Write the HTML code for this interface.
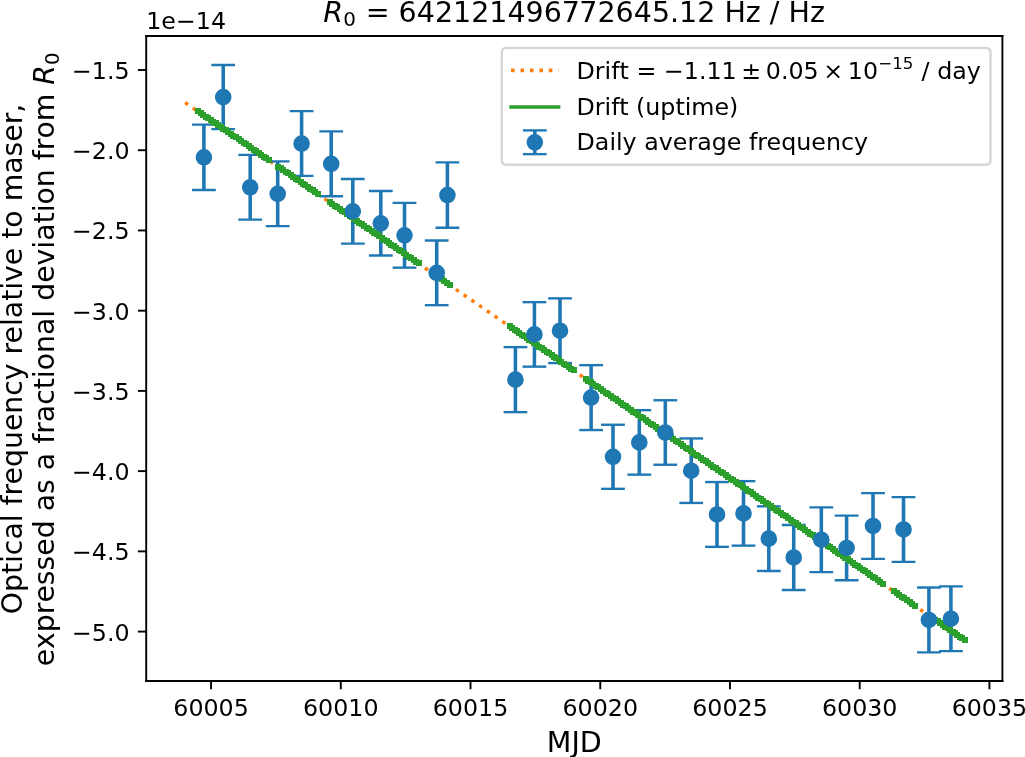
<!DOCTYPE html>
<html><head><meta charset="utf-8"><title>plot</title>
<style>html,body{margin:0;padding:0;background:#fff;}svg{display:block;}</style>
</head><body>
<svg width="1025" height="757" viewBox="0 0 431.578947 318.736842" version="1.1">
<defs>
<style type="text/css">*{stroke-linejoin: round; stroke-linecap: butt}</style>
</defs>
<g id="figure_1">
<g id="patch_1">
<path d="M 0 318.736842
L 431.578947 318.736842
L 431.578947 0
L 0 0
z
" style="fill: #ffffff"/>
</g>
<g id="axes_1">
<g id="patch_2">
<path d="M 61.557895 286.715789
L 422.063158 286.715789
L 422.063158 15.136842
L 61.557895 15.136842
z
" style="fill: #ffffff"/>
</g>
<g id="matplotlib.axis_1">
<g id="xtick_1">
<g id="line2d_1">
<defs>
<path id="m1504cfccaf" d="M 0 0
L 0 3.5
" style="stroke: #000000; stroke-width: 0.8"/>
</defs>
<g>
<use href="#m1504cfccaf" x="88.8689" y="286.715789" style="stroke: #000000; stroke-width: 0.8"/>
</g>
</g>
<g id="text_1">
<text style="font-size: 10px; font-family: 'DejaVu Sans', sans-serif; text-anchor: middle" x="88.8689" y="301.314227" transform="rotate(-0 88.8689 301.314227)">60005</text>
</g>
</g>
<g id="xtick_2">
<g id="line2d_2">
<g>
<use href="#m1504cfccaf" x="143.490909" y="286.715789" style="stroke: #000000; stroke-width: 0.8"/>
</g>
</g>
<g id="text_2">
<text style="font-size: 10px; font-family: 'DejaVu Sans', sans-serif; text-anchor: middle" x="143.490909" y="301.314227" transform="rotate(-0 143.490909 301.314227)">60010</text>
</g>
</g>
<g id="xtick_3">
<g id="line2d_3">
<g>
<use href="#m1504cfccaf" x="198.112919" y="286.715789" style="stroke: #000000; stroke-width: 0.8"/>
</g>
</g>
<g id="text_3">
<text style="font-size: 10px; font-family: 'DejaVu Sans', sans-serif; text-anchor: middle" x="198.112919" y="301.314227" transform="rotate(-0 198.112919 301.314227)">60015</text>
</g>
</g>
<g id="xtick_4">
<g id="line2d_4">
<g>
<use href="#m1504cfccaf" x="252.734928" y="286.715789" style="stroke: #000000; stroke-width: 0.8"/>
</g>
</g>
<g id="text_4">
<text style="font-size: 10px; font-family: 'DejaVu Sans', sans-serif; text-anchor: middle" x="252.734928" y="301.314227" transform="rotate(-0 252.734928 301.314227)">60020</text>
</g>
</g>
<g id="xtick_5">
<g id="line2d_5">
<g>
<use href="#m1504cfccaf" x="307.356938" y="286.715789" style="stroke: #000000; stroke-width: 0.8"/>
</g>
</g>
<g id="text_5">
<text style="font-size: 10px; font-family: 'DejaVu Sans', sans-serif; text-anchor: middle" x="307.356938" y="301.314227" transform="rotate(-0 307.356938 301.314227)">60025</text>
</g>
</g>
<g id="xtick_6">
<g id="line2d_6">
<g>
<use href="#m1504cfccaf" x="361.978947" y="286.715789" style="stroke: #000000; stroke-width: 0.8"/>
</g>
</g>
<g id="text_6">
<text style="font-size: 10px; font-family: 'DejaVu Sans', sans-serif; text-anchor: middle" x="361.978947" y="301.314227" transform="rotate(-0 361.978947 301.314227)">60030</text>
</g>
</g>
<g id="xtick_7">
<g id="line2d_7">
<g>
<use href="#m1504cfccaf" x="416.600957" y="286.715789" style="stroke: #000000; stroke-width: 0.8"/>
</g>
</g>
<g id="text_7">
<text style="font-size: 10px; font-family: 'DejaVu Sans', sans-serif; text-anchor: middle" x="416.600957" y="301.314227" transform="rotate(-0 416.600957 301.314227)">60035</text>
</g>
</g>
<g id="text_8">
<text style="font-size: 12px; font-family: 'DejaVu Sans', sans-serif; text-anchor: middle" x="241.810526" y="316.512039" transform="rotate(-0 241.810526 316.512039)">MJD</text>
</g>
</g>
<g id="matplotlib.axis_2">
<g id="ytick_1">
<g id="line2d_8">
<defs>
<path id="m5d545ce8f8" d="M 0 0
L -3.5 0
" style="stroke: #000000; stroke-width: 0.8"/>
</defs>
<g>
<use href="#m5d545ce8f8" x="61.557895" y="265.934237" style="stroke: #000000; stroke-width: 0.8"/>
</g>
</g>
<g id="text_9">
<text style="font-size: 10px; font-family: 'DejaVu Sans', sans-serif; text-anchor: end" x="54.557895" y="269.733456" transform="rotate(-0 54.557895 269.733456)">−5.0</text>
</g>
</g>
<g id="ytick_2">
<g id="line2d_9">
<g>
<use href="#m5d545ce8f8" x="61.557895" y="232.15408" style="stroke: #000000; stroke-width: 0.8"/>
</g>
</g>
<g id="text_10">
<text style="font-size: 10px; font-family: 'DejaVu Sans', sans-serif; text-anchor: end" x="54.557895" y="235.953299" transform="rotate(-0 54.557895 235.953299)">−4.5</text>
</g>
</g>
<g id="ytick_3">
<g id="line2d_10">
<g>
<use href="#m5d545ce8f8" x="61.557895" y="198.373924" style="stroke: #000000; stroke-width: 0.8"/>
</g>
</g>
<g id="text_11">
<text style="font-size: 10px; font-family: 'DejaVu Sans', sans-serif; text-anchor: end" x="54.557895" y="202.173143" transform="rotate(-0 54.557895 202.173143)">−4.0</text>
</g>
</g>
<g id="ytick_4">
<g id="line2d_11">
<g>
<use href="#m5d545ce8f8" x="61.557895" y="164.593767" style="stroke: #000000; stroke-width: 0.8"/>
</g>
</g>
<g id="text_12">
<text style="font-size: 10px; font-family: 'DejaVu Sans', sans-serif; text-anchor: end" x="54.557895" y="168.392986" transform="rotate(-0 54.557895 168.392986)">−3.5</text>
</g>
</g>
<g id="ytick_5">
<g id="line2d_12">
<g>
<use href="#m5d545ce8f8" x="61.557895" y="130.813611" style="stroke: #000000; stroke-width: 0.8"/>
</g>
</g>
<g id="text_13">
<text style="font-size: 10px; font-family: 'DejaVu Sans', sans-serif; text-anchor: end" x="54.557895" y="134.612829" transform="rotate(-0 54.557895 134.612829)">−3.0</text>
</g>
</g>
<g id="ytick_6">
<g id="line2d_13">
<g>
<use href="#m5d545ce8f8" x="61.557895" y="97.033454" style="stroke: #000000; stroke-width: 0.8"/>
</g>
</g>
<g id="text_14">
<text style="font-size: 10px; font-family: 'DejaVu Sans', sans-serif; text-anchor: end" x="54.557895" y="100.832673" transform="rotate(-0 54.557895 100.832673)">−2.5</text>
</g>
</g>
<g id="ytick_7">
<g id="line2d_14">
<g>
<use href="#m5d545ce8f8" x="61.557895" y="63.253297" style="stroke: #000000; stroke-width: 0.8"/>
</g>
</g>
<g id="text_15">
<text style="font-size: 10px; font-family: 'DejaVu Sans', sans-serif; text-anchor: end" x="54.557895" y="67.052516" transform="rotate(-0 54.557895 67.052516)">−2.0</text>
</g>
</g>
<g id="ytick_8">
<g id="line2d_15">
<g>
<use href="#m5d545ce8f8" x="61.557895" y="29.473141" style="stroke: #000000; stroke-width: 0.8"/>
</g>
</g>
<g id="text_16">
<text style="font-size: 10px; font-family: 'DejaVu Sans', sans-serif; text-anchor: end" x="54.557895" y="33.272359" transform="rotate(-0 54.557895 33.272359)">−1.5</text>
</g>
</g>
<g id="text_17" transform="matrix(1 0 0 0.9935 0 1.1495)">
<text style="font-size: 12px; font-family: 'DejaVu Sans', sans-serif" transform="translate(9.4312 259.204753) rotate(-90)">Optical frequency relative to maser,</text>
<g transform="translate(23.755082 281.246316) rotate(-90)">
<text>
<tspan x="0" y="-0.875" style="font-size: 12px; font-family: 'DejaVu Sans', sans-serif">e</tspan>
<tspan x="7.382812" y="-0.875" style="font-size: 12px; font-family: 'DejaVu Sans', sans-serif">x</tspan>
<tspan x="14.484375" y="-0.875" style="font-size: 12px; font-family: 'DejaVu Sans', sans-serif">p</tspan>
<tspan x="22.101562" y="-0.875" style="font-size: 12px; font-family: 'DejaVu Sans', sans-serif">r</tspan>
<tspan x="27.035156" y="-0.875" style="font-size: 12px; font-family: 'DejaVu Sans', sans-serif">e</tspan>
<tspan x="34.417969" y="-0.875" style="font-size: 12px; font-family: 'DejaVu Sans', sans-serif">s</tspan>
<tspan x="40.669922" y="-0.875" style="font-size: 12px; font-family: 'DejaVu Sans', sans-serif">s</tspan>
<tspan x="46.921875" y="-0.875" style="font-size: 12px; font-family: 'DejaVu Sans', sans-serif">e</tspan>
<tspan x="54.304688" y="-0.875" style="font-size: 12px; font-family: 'DejaVu Sans', sans-serif">d</tspan>
<tspan x="61.921875" y="-0.875" style="font-size: 12px; font-family: 'DejaVu Sans', sans-serif"> </tspan>
<tspan x="65.736328" y="-0.875" style="font-size: 12px; font-family: 'DejaVu Sans', sans-serif">a</tspan>
<tspan x="73.089844" y="-0.875" style="font-size: 12px; font-family: 'DejaVu Sans', sans-serif">s</tspan>
<tspan x="79.341797" y="-0.875" style="font-size: 12px; font-family: 'DejaVu Sans', sans-serif"> </tspan>
<tspan x="83.15625" y="-0.875" style="font-size: 12px; font-family: 'DejaVu Sans', sans-serif">a</tspan>
<tspan x="90.509766" y="-0.875" style="font-size: 12px; font-family: 'DejaVu Sans', sans-serif"> </tspan>
<tspan x="94.324219" y="-0.875" style="font-size: 12px; font-family: 'DejaVu Sans', sans-serif">f</tspan>
<tspan x="98.548828" y="-0.875" style="font-size: 12px; font-family: 'DejaVu Sans', sans-serif">r</tspan>
<tspan x="103.482422" y="-0.875" style="font-size: 12px; font-family: 'DejaVu Sans', sans-serif">a</tspan>
<tspan x="110.835938" y="-0.875" style="font-size: 12px; font-family: 'DejaVu Sans', sans-serif">c</tspan>
<tspan x="117.433594" y="-0.875" style="font-size: 12px; font-family: 'DejaVu Sans', sans-serif">t</tspan>
<tspan x="122.138672" y="-0.875" style="font-size: 12px; font-family: 'DejaVu Sans', sans-serif">i</tspan>
<tspan x="125.472656" y="-0.875" style="font-size: 12px; font-family: 'DejaVu Sans', sans-serif">o</tspan>
<tspan x="132.814453" y="-0.875" style="font-size: 12px; font-family: 'DejaVu Sans', sans-serif">n</tspan>
<tspan x="140.419922" y="-0.875" style="font-size: 12px; font-family: 'DejaVu Sans', sans-serif">a</tspan>
<tspan x="147.773438" y="-0.875" style="font-size: 12px; font-family: 'DejaVu Sans', sans-serif">l</tspan>
<tspan x="151.107422" y="-0.875" style="font-size: 12px; font-family: 'DejaVu Sans', sans-serif"> </tspan>
<tspan x="154.921875" y="-0.875" style="font-size: 12px; font-family: 'DejaVu Sans', sans-serif">d</tspan>
<tspan x="162.539062" y="-0.875" style="font-size: 12px; font-family: 'DejaVu Sans', sans-serif">e</tspan>
<tspan x="169.921875" y="-0.875" style="font-size: 12px; font-family: 'DejaVu Sans', sans-serif">v</tspan>
<tspan x="177.023438" y="-0.875" style="font-size: 12px; font-family: 'DejaVu Sans', sans-serif">i</tspan>
<tspan x="180.357422" y="-0.875" style="font-size: 12px; font-family: 'DejaVu Sans', sans-serif">a</tspan>
<tspan x="187.710938" y="-0.875" style="font-size: 12px; font-family: 'DejaVu Sans', sans-serif">t</tspan>
<tspan x="192.416016" y="-0.875" style="font-size: 12px; font-family: 'DejaVu Sans', sans-serif">i</tspan>
<tspan x="195.75" y="-0.875" style="font-size: 12px; font-family: 'DejaVu Sans', sans-serif">o</tspan>
<tspan x="203.091797" y="-0.875" style="font-size: 12px; font-family: 'DejaVu Sans', sans-serif">n</tspan>
<tspan x="210.697266" y="-0.875" style="font-size: 12px; font-family: 'DejaVu Sans', sans-serif"> </tspan>
<tspan x="214.511719" y="-0.875" style="font-size: 12px; font-family: 'DejaVu Sans', sans-serif">f</tspan>
<tspan x="218.736328" y="-0.875" style="font-size: 12px; font-family: 'DejaVu Sans', sans-serif">r</tspan>
<tspan x="223.669922" y="-0.875" style="font-size: 12px; font-family: 'DejaVu Sans', sans-serif">o</tspan>
<tspan x="231.011719" y="-0.875" style="font-size: 12px; font-family: 'DejaVu Sans', sans-serif">m</tspan>
<tspan x="242.701172" y="-0.875" style="font-size: 12px; font-family: 'DejaVu Sans', sans-serif"> </tspan>
<tspan x="246.515625" y="-0.875" style="font-style: oblique; font-size: 12px; font-family: 'DejaVu Sans', sans-serif">R</tspan>
<tspan x="254.853516" y="1.09375" style="font-size: 8.4px; font-family: 'DejaVu Sans', sans-serif">0</tspan>
</text>
</g>
</g>
<g id="text_18">
<text style="font-size: 10px; font-family: 'DejaVu Sans', sans-serif; text-anchor: start" x="61.557895" y="12.136842" transform="rotate(-0 61.557895 12.136842)">1e−14</text>
</g>
</g>
<g id="line2d_16">
<path d="M 77.944498 43.19464
L 405.676555 269.224424
" clip-path="url(#pc058e3811c)" style="fill: none; stroke-dasharray: 1.4935,2.4644; stroke-dashoffset: 0; stroke: #ff7f0e; stroke-width: 1.5"/>
</g>
<g id="LineCollection_1">
<path d="M 85.85411 79.981275
L 85.85411 52.487267
" clip-path="url(#pc058e3811c)" style="fill: none; stroke: #1f77b4; stroke-width: 1.5"/>
<path d="M 93.980568 54.381954
L 93.980568 27.351092
" clip-path="url(#pc058e3811c)" style="fill: none; stroke: #1f77b4; stroke-width: 1.5"/>
<path d="M 105.349188 92.486206
L 105.349188 65.202719
" clip-path="url(#pc058e3811c)" style="fill: none; stroke: #1f77b4; stroke-width: 1.5"/>
<path d="M 116.928338 95.222976
L 116.928338 67.939489
" clip-path="url(#pc058e3811c)" style="fill: none; stroke: #1f77b4; stroke-width: 1.5"/>
<path d="M 126.991673 74.04459
L 126.991673 46.803207
" clip-path="url(#pc058e3811c)" style="fill: none; stroke: #1f77b4; stroke-width: 1.5"/>
<path d="M 139.455049 82.633836
L 139.455049 55.308245
" clip-path="url(#pc058e3811c)" style="fill: none; stroke: #1f77b4; stroke-width: 1.5"/>
<path d="M 148.549945 102.591201
L 148.549945 75.349818
" clip-path="url(#pc058e3811c)" style="fill: none; stroke: #1f77b4; stroke-width: 1.5"/>
<path d="M 160.339625 107.601595
L 160.339625 80.44442
" clip-path="url(#pc058e3811c)" style="fill: none; stroke: #1f77b4; stroke-width: 1.5"/>
<path d="M 170.318748 112.696196
L 170.318748 85.412709
" clip-path="url(#pc058e3811c)" style="fill: none; stroke: #1f77b4; stroke-width: 1.5"/>
<path d="M 183.87688 128.485251
L 183.87688 101.243869
" clip-path="url(#pc058e3811c)" style="fill: none; stroke: #1f77b4; stroke-width: 1.5"/>
<path d="M 188.382222 95.896642
L 188.382222 68.36053
" clip-path="url(#pc058e3811c)" style="fill: none; stroke: #1f77b4; stroke-width: 1.5"/>
<path d="M 217.014302 173.536688
L 217.014302 146.168993
" clip-path="url(#pc058e3811c)" style="fill: none; stroke: #1f77b4; stroke-width: 1.5"/>
<path d="M 225.014443 154.379301
L 225.014443 127.222127
" clip-path="url(#pc058e3811c)" style="fill: none; stroke: #1f77b4; stroke-width: 1.5"/>
<path d="M 235.793579 152.863552
L 235.793579 125.622169
" clip-path="url(#pc058e3811c)" style="fill: none; stroke: #1f77b4; stroke-width: 1.5"/>
<path d="M 248.888545 181.07333
L 248.888545 153.747739
" clip-path="url(#pc058e3811c)" style="fill: none; stroke: #1f77b4; stroke-width: 1.5"/>
<path d="M 258.109759 205.830568
L 258.109759 178.84181
" clip-path="url(#pc058e3811c)" style="fill: none; stroke: #1f77b4; stroke-width: 1.5"/>
<path d="M 269.183637 199.851779
L 269.183637 172.694605
" clip-path="url(#pc058e3811c)" style="fill: none; stroke: #1f77b4; stroke-width: 1.5"/>
<path d="M 280.131198 195.683469
L 280.131198 168.526294
" clip-path="url(#pc058e3811c)" style="fill: none; stroke: #1f77b4; stroke-width: 1.5"/>
<path d="M 291.036652 211.767253
L 291.036652 184.610078
" clip-path="url(#pc058e3811c)" style="fill: none; stroke: #1f77b4; stroke-width: 1.5"/>
<path d="M 301.9 230.250973
L 301.9 202.967486
" clip-path="url(#pc058e3811c)" style="fill: none; stroke: #1f77b4; stroke-width: 1.5"/>
<path d="M 313.05809 229.745723
L 313.05809 202.588549
" clip-path="url(#pc058e3811c)" style="fill: none; stroke: #1f77b4; stroke-width: 1.5"/>
<path d="M 323.710909 240.398072
L 323.710909 213.198794
" clip-path="url(#pc058e3811c)" style="fill: none; stroke: #1f77b4; stroke-width: 1.5"/>
<path d="M 334.195303 248.39786
L 334.195303 221.030165
" clip-path="url(#pc058e3811c)" style="fill: none; stroke: #1f77b4; stroke-width: 1.5"/>
<path d="M 345.816559 240.903322
L 345.816559 213.619835
" clip-path="url(#pc058e3811c)" style="fill: none; stroke: #1f77b4; stroke-width: 1.5"/>
<path d="M 356.469377 244.313758
L 356.469377 217.114479
" clip-path="url(#pc058e3811c)" style="fill: none; stroke: #1f77b4; stroke-width: 1.5"/>
<path d="M 367.585361 235.303471
L 367.585361 207.615784
" clip-path="url(#pc058e3811c)" style="fill: none; stroke: #1f77b4; stroke-width: 1.5"/>
<path d="M 380.427692 236.566595
L 380.427692 209.325212
" clip-path="url(#pc058e3811c)" style="fill: none; stroke: #1f77b4; stroke-width: 1.5"/>
<path d="M 391.122616 274.670847
L 391.122616 247.387361
" clip-path="url(#pc058e3811c)" style="fill: none; stroke: #1f77b4; stroke-width: 1.5"/>
<path d="M 400.385936 274.165598
L 400.385936 246.882111
" clip-path="url(#pc058e3811c)" style="fill: none; stroke: #1f77b4; stroke-width: 1.5"/>
</g>
<g id="line2d_17">
<defs>
<path id="mc7c5441340" d="M 5 0
L -5 -0
" style="stroke: #1f77b4"/>
</defs>
<g clip-path="url(#pc058e3811c)">
<use href="#mc7c5441340" x="85.85411" y="79.981275" style="fill: #1f77b4; stroke: #1f77b4"/>
<use href="#mc7c5441340" x="93.980568" y="54.381954" style="fill: #1f77b4; stroke: #1f77b4"/>
<use href="#mc7c5441340" x="105.349188" y="92.486206" style="fill: #1f77b4; stroke: #1f77b4"/>
<use href="#mc7c5441340" x="116.928338" y="95.222976" style="fill: #1f77b4; stroke: #1f77b4"/>
<use href="#mc7c5441340" x="126.991673" y="74.04459" style="fill: #1f77b4; stroke: #1f77b4"/>
<use href="#mc7c5441340" x="139.455049" y="82.633836" style="fill: #1f77b4; stroke: #1f77b4"/>
<use href="#mc7c5441340" x="148.549945" y="102.591201" style="fill: #1f77b4; stroke: #1f77b4"/>
<use href="#mc7c5441340" x="160.339625" y="107.601595" style="fill: #1f77b4; stroke: #1f77b4"/>
<use href="#mc7c5441340" x="170.318748" y="112.696196" style="fill: #1f77b4; stroke: #1f77b4"/>
<use href="#mc7c5441340" x="183.87688" y="128.485251" style="fill: #1f77b4; stroke: #1f77b4"/>
<use href="#mc7c5441340" x="188.382222" y="95.896642" style="fill: #1f77b4; stroke: #1f77b4"/>
<use href="#mc7c5441340" x="217.014302" y="173.536688" style="fill: #1f77b4; stroke: #1f77b4"/>
<use href="#mc7c5441340" x="225.014443" y="154.379301" style="fill: #1f77b4; stroke: #1f77b4"/>
<use href="#mc7c5441340" x="235.793579" y="152.863552" style="fill: #1f77b4; stroke: #1f77b4"/>
<use href="#mc7c5441340" x="248.888545" y="181.07333" style="fill: #1f77b4; stroke: #1f77b4"/>
<use href="#mc7c5441340" x="258.109759" y="205.830568" style="fill: #1f77b4; stroke: #1f77b4"/>
<use href="#mc7c5441340" x="269.183637" y="199.851779" style="fill: #1f77b4; stroke: #1f77b4"/>
<use href="#mc7c5441340" x="280.131198" y="195.683469" style="fill: #1f77b4; stroke: #1f77b4"/>
<use href="#mc7c5441340" x="291.036652" y="211.767253" style="fill: #1f77b4; stroke: #1f77b4"/>
<use href="#mc7c5441340" x="301.9" y="230.250973" style="fill: #1f77b4; stroke: #1f77b4"/>
<use href="#mc7c5441340" x="313.05809" y="229.745723" style="fill: #1f77b4; stroke: #1f77b4"/>
<use href="#mc7c5441340" x="323.710909" y="240.398072" style="fill: #1f77b4; stroke: #1f77b4"/>
<use href="#mc7c5441340" x="334.195303" y="248.39786" style="fill: #1f77b4; stroke: #1f77b4"/>
<use href="#mc7c5441340" x="345.816559" y="240.903322" style="fill: #1f77b4; stroke: #1f77b4"/>
<use href="#mc7c5441340" x="356.469377" y="244.313758" style="fill: #1f77b4; stroke: #1f77b4"/>
<use href="#mc7c5441340" x="367.585361" y="235.303471" style="fill: #1f77b4; stroke: #1f77b4"/>
<use href="#mc7c5441340" x="380.427692" y="236.566595" style="fill: #1f77b4; stroke: #1f77b4"/>
<use href="#mc7c5441340" x="391.122616" y="274.670847" style="fill: #1f77b4; stroke: #1f77b4"/>
<use href="#mc7c5441340" x="400.385936" y="274.165598" style="fill: #1f77b4; stroke: #1f77b4"/>
</g>
</g>
<g id="line2d_18">
<g clip-path="url(#pc058e3811c)">
<use href="#mc7c5441340" x="85.85411" y="52.487267" style="fill: #1f77b4; stroke: #1f77b4"/>
<use href="#mc7c5441340" x="93.980568" y="27.351092" style="fill: #1f77b4; stroke: #1f77b4"/>
<use href="#mc7c5441340" x="105.349188" y="65.202719" style="fill: #1f77b4; stroke: #1f77b4"/>
<use href="#mc7c5441340" x="116.928338" y="67.939489" style="fill: #1f77b4; stroke: #1f77b4"/>
<use href="#mc7c5441340" x="126.991673" y="46.803207" style="fill: #1f77b4; stroke: #1f77b4"/>
<use href="#mc7c5441340" x="139.455049" y="55.308245" style="fill: #1f77b4; stroke: #1f77b4"/>
<use href="#mc7c5441340" x="148.549945" y="75.349818" style="fill: #1f77b4; stroke: #1f77b4"/>
<use href="#mc7c5441340" x="160.339625" y="80.44442" style="fill: #1f77b4; stroke: #1f77b4"/>
<use href="#mc7c5441340" x="170.318748" y="85.412709" style="fill: #1f77b4; stroke: #1f77b4"/>
<use href="#mc7c5441340" x="183.87688" y="101.243869" style="fill: #1f77b4; stroke: #1f77b4"/>
<use href="#mc7c5441340" x="188.382222" y="68.36053" style="fill: #1f77b4; stroke: #1f77b4"/>
<use href="#mc7c5441340" x="217.014302" y="146.168993" style="fill: #1f77b4; stroke: #1f77b4"/>
<use href="#mc7c5441340" x="225.014443" y="127.222127" style="fill: #1f77b4; stroke: #1f77b4"/>
<use href="#mc7c5441340" x="235.793579" y="125.622169" style="fill: #1f77b4; stroke: #1f77b4"/>
<use href="#mc7c5441340" x="248.888545" y="153.747739" style="fill: #1f77b4; stroke: #1f77b4"/>
<use href="#mc7c5441340" x="258.109759" y="178.84181" style="fill: #1f77b4; stroke: #1f77b4"/>
<use href="#mc7c5441340" x="269.183637" y="172.694605" style="fill: #1f77b4; stroke: #1f77b4"/>
<use href="#mc7c5441340" x="280.131198" y="168.526294" style="fill: #1f77b4; stroke: #1f77b4"/>
<use href="#mc7c5441340" x="291.036652" y="184.610078" style="fill: #1f77b4; stroke: #1f77b4"/>
<use href="#mc7c5441340" x="301.9" y="202.967486" style="fill: #1f77b4; stroke: #1f77b4"/>
<use href="#mc7c5441340" x="313.05809" y="202.588549" style="fill: #1f77b4; stroke: #1f77b4"/>
<use href="#mc7c5441340" x="323.710909" y="213.198794" style="fill: #1f77b4; stroke: #1f77b4"/>
<use href="#mc7c5441340" x="334.195303" y="221.030165" style="fill: #1f77b4; stroke: #1f77b4"/>
<use href="#mc7c5441340" x="345.816559" y="213.619835" style="fill: #1f77b4; stroke: #1f77b4"/>
<use href="#mc7c5441340" x="356.469377" y="217.114479" style="fill: #1f77b4; stroke: #1f77b4"/>
<use href="#mc7c5441340" x="367.585361" y="207.615784" style="fill: #1f77b4; stroke: #1f77b4"/>
<use href="#mc7c5441340" x="380.427692" y="209.325212" style="fill: #1f77b4; stroke: #1f77b4"/>
<use href="#mc7c5441340" x="391.122616" y="247.387361" style="fill: #1f77b4; stroke: #1f77b4"/>
<use href="#mc7c5441340" x="400.385936" y="246.882111" style="fill: #1f77b4; stroke: #1f77b4"/>
</g>
</g>
<g id="line2d_19"/>
<g id="green_uptime" transform="scale(0.421053)"><path d="M195 108h6v6h-6zM198 110h6v6h-6zM200 112h6v6h-6zM203 114h6v6h-6zM205 115h6v6h-6zM208 117h6v6h-6zM210 119h6v6h-6zM213 120h6v6h-6zM215 122h6v6h-6zM218 124h6v6h-6zM220 126h6v6h-6zM223 127h6v6h-6zM225 129h6v6h-6zM228 131h6v6h-6zM230 133h6v6h-6zM233 134h6v6h-6zM236 136h6v6h-6zM238 138h6v6h-6zM241 140h6v6h-6zM243 141h6v6h-6zM246 143h6v6h-6zM248 145h6v6h-6zM251 147h6v6h-6zM253 148h6v6h-6zM256 150h6v6h-6zM258 152h6v6h-6zM261 154h6v6h-6zM263 155h6v6h-6zM266 157h6v6h-6zM275 164h6v6h-6zM278 165h6v6h-6zM280 167h6v6h-6zM283 169h6v6h-6zM285 170h6v6h-6zM288 172h6v6h-6zM290 174h6v6h-6zM293 176h6v6h-6zM295 177h6v6h-6zM298 179h6v6h-6zM300 181h6v6h-6zM302 182h6v6h-6zM305 184h6v6h-6zM307 186h6v6h-6zM310 187h6v6h-6zM312 189h6v6h-6zM315 191h6v6h-6zM327 199h6v6h-6zM329 201h6v6h-6zM332 203h6v6h-6zM334 204h6v6h-6zM337 206h6v6h-6zM339 208h6v6h-6zM342 209h6v6h-6zM344 211h6v6h-6zM347 213h6v6h-6zM349 214h6v6h-6zM351 216h6v6h-6zM354 218h6v6h-6zM356 220h6v6h-6zM359 221h6v6h-6zM361 223h6v6h-6zM364 225h6v6h-6zM366 226h6v6h-6zM369 228h6v6h-6zM371 230h6v6h-6zM374 231h6v6h-6zM376 233h6v6h-6zM379 235h6v6h-6zM381 237h6v6h-6zM384 238h6v6h-6zM386 240h6v6h-6zM388 242h6v6h-6zM391 243h6v6h-6zM393 245h6v6h-6zM396 247h6v6h-6zM398 248h6v6h-6zM401 250h6v6h-6zM403 252h6v6h-6zM406 254h6v6h-6zM408 255h6v6h-6zM411 257h6v6h-6zM413 259h6v6h-6zM416 260h6v6h-6zM436 274h6v6h-6zM439 276h6v6h-6zM441 278h6v6h-6zM444 280h6v6h-6zM447 282h6v6h-6zM507 323h6v6h-6zM509 325h6v6h-6zM512 327h6v6h-6zM514 328h6v6h-6zM516 330h6v6h-6zM519 332h6v6h-6zM521 333h6v6h-6zM524 335h6v6h-6zM526 337h6v6h-6zM529 338h6v6h-6zM531 340h6v6h-6zM534 342h6v6h-6zM536 344h6v6h-6zM539 345h6v6h-6zM541 347h6v6h-6zM544 349h6v6h-6zM546 350h6v6h-6zM549 352h6v6h-6zM551 354h6v6h-6zM553 355h6v6h-6zM556 357h6v6h-6zM558 359h6v6h-6zM561 361h6v6h-6zM563 362h6v6h-6zM566 364h6v6h-6zM568 366h6v6h-6zM571 367h6v6h-6zM583 376h6v6h-6zM585 378h6v6h-6zM588 379h6v6h-6zM590 381h6v6h-6zM593 383h6v6h-6zM595 384h6v6h-6zM598 386h6v6h-6zM600 388h6v6h-6zM603 390h6v6h-6zM605 391h6v6h-6zM608 393h6v6h-6zM610 395h6v6h-6zM613 396h6v6h-6zM615 398h6v6h-6zM618 400h6v6h-6zM620 402h6v6h-6zM623 403h6v6h-6zM625 405h6v6h-6zM628 407h6v6h-6zM630 409h6v6h-6zM633 410h6v6h-6zM635 412h6v6h-6zM638 414h6v6h-6zM640 415h6v6h-6zM643 417h6v6h-6zM645 419h6v6h-6zM648 421h6v6h-6zM650 422h6v6h-6zM653 424h6v6h-6zM655 426h6v6h-6zM658 427h6v6h-6zM660 429h6v6h-6zM663 431h6v6h-6zM665 433h6v6h-6zM668 434h6v6h-6zM670 436h6v6h-6zM673 438h6v6h-6zM675 439h6v6h-6zM678 441h6v6h-6zM680 443h6v6h-6zM683 445h6v6h-6zM685 446h6v6h-6zM688 448h6v6h-6zM690 450h6v6h-6zM693 452h6v6h-6zM695 453h6v6h-6zM698 455h6v6h-6zM700 457h6v6h-6zM703 458h6v6h-6zM705 460h6v6h-6zM708 462h6v6h-6zM710 464h6v6h-6zM713 465h6v6h-6zM715 467h6v6h-6zM718 469h6v6h-6zM720 470h6v6h-6zM723 472h6v6h-6zM725 474h6v6h-6zM728 476h6v6h-6zM730 477h6v6h-6zM733 479h6v6h-6zM735 481h6v6h-6zM738 482h6v6h-6zM740 484h6v6h-6zM743 486h6v6h-6zM745 488h6v6h-6zM748 489h6v6h-6zM750 491h6v6h-6zM753 493h6v6h-6zM755 495h6v6h-6zM758 496h6v6h-6zM760 498h6v6h-6zM763 500h6v6h-6zM765 501h6v6h-6zM768 503h6v6h-6zM770 505h6v6h-6zM773 507h6v6h-6zM775 508h6v6h-6zM778 510h6v6h-6zM780 512h6v6h-6zM783 513h6v6h-6zM785 515h6v6h-6zM788 517h6v6h-6zM790 519h6v6h-6zM793 520h6v6h-6zM795 522h6v6h-6zM797 524h6v6h-6zM800 525h6v6h-6zM802 527h6v6h-6zM805 529h6v6h-6zM807 531h6v6h-6zM810 532h6v6h-6zM812 534h6v6h-6zM815 536h6v6h-6zM817 538h6v6h-6zM820 539h6v6h-6zM822 541h6v6h-6zM825 543h6v6h-6zM827 544h6v6h-6zM830 546h6v6h-6zM832 548h6v6h-6zM835 550h6v6h-6zM837 551h6v6h-6zM840 553h6v6h-6zM842 555h6v6h-6zM845 556h6v6h-6zM847 558h6v6h-6zM850 560h6v6h-6zM852 562h6v6h-6zM855 563h6v6h-6zM857 565h6v6h-6zM860 567h6v6h-6zM862 568h6v6h-6zM865 570h6v6h-6zM867 572h6v6h-6zM870 574h6v6h-6zM872 575h6v6h-6zM875 577h6v6h-6zM877 579h6v6h-6zM880 581h6v6h-6zM891 588h6v6h-6zM894 590h6v6h-6zM896 592h6v6h-6zM899 594h6v6h-6zM901 595h6v6h-6zM904 597h6v6h-6zM907 599h6v6h-6zM909 601h6v6h-6zM912 603h6v6h-6zM925 612h6v6h-6zM927 613h6v6h-6zM930 615h6v6h-6zM932 617h6v6h-6zM935 618h6v6h-6zM937 620h6v6h-6zM940 622h6v6h-6zM942 624h6v6h-6zM945 625h6v6h-6zM947 627h6v6h-6zM950 629h6v6h-6zM952 630h6v6h-6zM954 632h6v6h-6zM957 634h6v6h-6zM959 635h6v6h-6zM962 637h6v6h-6z" style="fill: #2ca02c" shape-rendering="crispEdges"/></g>
<g id="line2d_20">
<defs>
<path id="mf14c53ed57" d="M 0 3
C 0.795609 3 1.55874 2.683901 2.12132 2.12132
C 2.683901 1.55874 3 0.795609 3 0
C 3 -0.795609 2.683901 -1.55874 2.12132 -2.12132
C 1.55874 -2.683901 0.795609 -3 0 -3
C -0.795609 -3 -1.55874 -2.683901 -2.12132 -2.12132
C -2.683901 -1.55874 -3 -0.795609 -3 0
C -3 0.795609 -2.683901 1.55874 -2.12132 2.12132
C -1.55874 2.683901 -0.795609 3 0 3
z
" style="stroke: #1f77b4"/>
</defs>
<g clip-path="url(#pc058e3811c)">
<use href="#mf14c53ed57" x="85.85411" y="66.234271" style="fill: #1f77b4; stroke: #1f77b4"/>
<use href="#mf14c53ed57" x="93.980568" y="40.866523" style="fill: #1f77b4; stroke: #1f77b4"/>
<use href="#mf14c53ed57" x="105.349188" y="78.844463" style="fill: #1f77b4; stroke: #1f77b4"/>
<use href="#mf14c53ed57" x="116.928338" y="81.581232" style="fill: #1f77b4; stroke: #1f77b4"/>
<use href="#mf14c53ed57" x="126.991673" y="60.423899" style="fill: #1f77b4; stroke: #1f77b4"/>
<use href="#mf14c53ed57" x="139.455049" y="68.97104" style="fill: #1f77b4; stroke: #1f77b4"/>
<use href="#mf14c53ed57" x="148.549945" y="88.97051" style="fill: #1f77b4; stroke: #1f77b4"/>
<use href="#mf14c53ed57" x="160.339625" y="94.023007" style="fill: #1f77b4; stroke: #1f77b4"/>
<use href="#mf14c53ed57" x="170.318748" y="99.054453" style="fill: #1f77b4; stroke: #1f77b4"/>
<use href="#mf14c53ed57" x="183.87688" y="114.86456" style="fill: #1f77b4; stroke: #1f77b4"/>
<use href="#mf14c53ed57" x="188.382222" y="82.128586" style="fill: #1f77b4; stroke: #1f77b4"/>
<use href="#mf14c53ed57" x="217.014302" y="159.85284" style="fill: #1f77b4; stroke: #1f77b4"/>
<use href="#mf14c53ed57" x="225.014443" y="140.800714" style="fill: #1f77b4; stroke: #1f77b4"/>
<use href="#mf14c53ed57" x="235.793579" y="139.242861" style="fill: #1f77b4; stroke: #1f77b4"/>
<use href="#mf14c53ed57" x="248.888545" y="167.410535" style="fill: #1f77b4; stroke: #1f77b4"/>
<use href="#mf14c53ed57" x="258.109759" y="192.336189" style="fill: #1f77b4; stroke: #1f77b4"/>
<use href="#mf14c53ed57" x="269.183637" y="186.273192" style="fill: #1f77b4; stroke: #1f77b4"/>
<use href="#mf14c53ed57" x="280.131198" y="182.104882" style="fill: #1f77b4; stroke: #1f77b4"/>
<use href="#mf14c53ed57" x="291.036652" y="198.188666" style="fill: #1f77b4; stroke: #1f77b4"/>
<use href="#mf14c53ed57" x="301.9" y="216.60923" style="fill: #1f77b4; stroke: #1f77b4"/>
<use href="#mf14c53ed57" x="313.05809" y="216.167136" style="fill: #1f77b4; stroke: #1f77b4"/>
<use href="#mf14c53ed57" x="323.710909" y="226.798433" style="fill: #1f77b4; stroke: #1f77b4"/>
<use href="#mf14c53ed57" x="334.195303" y="234.714013" style="fill: #1f77b4; stroke: #1f77b4"/>
<use href="#mf14c53ed57" x="345.816559" y="227.261579" style="fill: #1f77b4; stroke: #1f77b4"/>
<use href="#mf14c53ed57" x="356.469377" y="230.714119" style="fill: #1f77b4; stroke: #1f77b4"/>
<use href="#mf14c53ed57" x="367.585361" y="221.459627" style="fill: #1f77b4; stroke: #1f77b4"/>
<use href="#mf14c53ed57" x="380.427692" y="222.945904" style="fill: #1f77b4; stroke: #1f77b4"/>
<use href="#mf14c53ed57" x="391.122616" y="261.029104" style="fill: #1f77b4; stroke: #1f77b4"/>
<use href="#mf14c53ed57" x="400.385936" y="260.523854" style="fill: #1f77b4; stroke: #1f77b4"/>
</g>
</g>
<g id="patch_11">
<path d="M 61.557895 286.715789
L 61.557895 15.136842
" style="fill: none; stroke: #000000; stroke-width: 0.8; stroke-linejoin: miter; stroke-linecap: square"/>
</g>
<g id="patch_12">
<path d="M 422.063158 286.715789
L 422.063158 15.136842
" style="fill: none; stroke: #000000; stroke-width: 0.8; stroke-linejoin: miter; stroke-linecap: square"/>
</g>
<g id="patch_13">
<path d="M 61.557895 286.715789
L 422.063158 286.715789
" style="fill: none; stroke: #000000; stroke-width: 0.8; stroke-linejoin: miter; stroke-linecap: square"/>
</g>
<g id="patch_14">
<path d="M 61.557895 15.136842
L 422.063158 15.136842
" style="fill: none; stroke: #000000; stroke-width: 0.8; stroke-linejoin: miter; stroke-linecap: square"/>
</g>
<g id="text_19" transform="translate(0 0.0842)">
<g transform="translate(136.150526 9.136842)">
<text>
<tspan x="0" y="-0.09375" style="font-style: oblique; font-size: 12px; font-family: 'DejaVu Sans', sans-serif">R</tspan>
<tspan x="8.337891" y="1.875" style="font-size: 8.4px; font-family: 'DejaVu Sans', sans-serif">0</tspan>
<tspan x="14.010352" y="-0.09375" style="font-size: 12px; font-family: 'DejaVu Sans', sans-serif"> </tspan>
<tspan x="17.824805" y="-0.09375" style="font-size: 12px; font-family: 'DejaVu Sans', sans-serif">=</tspan>
<tspan x="27.879492" y="-0.09375" style="font-size: 12px; font-family: 'DejaVu Sans', sans-serif"> </tspan>
<tspan x="31.693945" y="-0.09375" style="font-size: 12px; font-family: 'DejaVu Sans', sans-serif">6</tspan>
<tspan x="39.328711" y="-0.09375" style="font-size: 12px; font-family: 'DejaVu Sans', sans-serif">4</tspan>
<tspan x="46.963477" y="-0.09375" style="font-size: 12px; font-family: 'DejaVu Sans', sans-serif">2</tspan>
<tspan x="54.598242" y="-0.09375" style="font-size: 12px; font-family: 'DejaVu Sans', sans-serif">1</tspan>
<tspan x="62.233008" y="-0.09375" style="font-size: 12px; font-family: 'DejaVu Sans', sans-serif">2</tspan>
<tspan x="69.867773" y="-0.09375" style="font-size: 12px; font-family: 'DejaVu Sans', sans-serif">1</tspan>
<tspan x="77.502539" y="-0.09375" style="font-size: 12px; font-family: 'DejaVu Sans', sans-serif">4</tspan>
<tspan x="85.137305" y="-0.09375" style="font-size: 12px; font-family: 'DejaVu Sans', sans-serif">9</tspan>
<tspan x="92.77207" y="-0.09375" style="font-size: 12px; font-family: 'DejaVu Sans', sans-serif">6</tspan>
<tspan x="100.406836" y="-0.09375" style="font-size: 12px; font-family: 'DejaVu Sans', sans-serif">7</tspan>
<tspan x="107.791602" y="-0.09375" style="font-size: 12px; font-family: 'DejaVu Sans', sans-serif">7</tspan>
<tspan x="115.426367" y="-0.09375" style="font-size: 12px; font-family: 'DejaVu Sans', sans-serif">2</tspan>
<tspan x="123.061133" y="-0.09375" style="font-size: 12px; font-family: 'DejaVu Sans', sans-serif">6</tspan>
<tspan x="130.695898" y="-0.09375" style="font-size: 12px; font-family: 'DejaVu Sans', sans-serif">4</tspan>
<tspan x="138.330664" y="-0.09375" style="font-size: 12px; font-family: 'DejaVu Sans', sans-serif">5</tspan>
<tspan x="145.96543" y="-0.09375" style="font-size: 12px; font-family: 'DejaVu Sans', sans-serif">.</tspan>
<tspan x="149.779883" y="-0.09375" style="font-size: 12px; font-family: 'DejaVu Sans', sans-serif">1</tspan>
<tspan x="157.414648" y="-0.09375" style="font-size: 12px; font-family: 'DejaVu Sans', sans-serif">2</tspan>
<tspan x="165.049414" y="-0.09375" style="font-size: 12px; font-family: 'DejaVu Sans', sans-serif"> </tspan>
<tspan x="168.863867" y="-0.09375" style="font-size: 12px; font-family: 'DejaVu Sans', sans-serif">H</tspan>
<tspan x="177.887305" y="-0.09375" style="font-size: 12px; font-family: 'DejaVu Sans', sans-serif">z</tspan>
<tspan x="184.186133" y="-0.09375" style="font-size: 12px; font-family: 'DejaVu Sans', sans-serif"> </tspan>
<tspan x="188.000586" y="-0.09375" style="font-size: 12px; font-family: 'DejaVu Sans', sans-serif">/</tspan>
<tspan x="192.043555" y="-0.09375" style="font-size: 12px; font-family: 'DejaVu Sans', sans-serif"> </tspan>
<tspan x="195.858008" y="-0.09375" style="font-size: 12px; font-family: 'DejaVu Sans', sans-serif">H</tspan>
<tspan x="204.881445" y="-0.09375" style="font-size: 12px; font-family: 'DejaVu Sans', sans-serif">z</tspan>
</text>
</g>
</g>
<g id="legend_1">
<g id="patch_15">
<path d="M 213.268421 69.353092
L 415.063158 69.353092
Q 417.063158 69.353092 417.063158 67.353092
L 417.063158 22.136842
Q 417.063158 20.136842 415.063158 20.136842
L 213.268421 20.136842
Q 211.268421 20.136842 211.268421 22.136842
L 211.268421 67.353092
Q 211.268421 69.353092 213.268421 69.353092
z
" style="fill: #ffffff; opacity: 0.8; stroke: #cccccc; stroke-linejoin: miter"/>
</g>
<g id="line2d_21" transform="translate(0.4211 0.0000)">
<path d="M 214.763158 29.636842
L 224.763158 29.636842
L 234.763158 29.636842
" style="fill: none; stroke-dasharray: 1.5,2.475; stroke-dashoffset: 0; stroke: #ff7f0e; stroke-width: 1.5"/>
</g>
<g id="text_20">
<g transform="translate(242.763158 33.136842)">
<text>
<tspan x="0" y="-0.064063" style="font-size: 10px; font-family: 'DejaVu Sans', sans-serif">D</tspan>
<tspan x="7.700195" y="-0.064063" style="font-size: 10px; font-family: 'DejaVu Sans', sans-serif">r</tspan>
<tspan x="11.811523" y="-0.064063" style="font-size: 10px; font-family: 'DejaVu Sans', sans-serif">i</tspan>
<tspan x="14.589844" y="-0.064063" style="font-size: 10px; font-family: 'DejaVu Sans', sans-serif">f</tspan>
<tspan x="18.110352" y="-0.064063" style="font-size: 10px; font-family: 'DejaVu Sans', sans-serif">t</tspan>
<tspan x="22.03125" y="-0.064063" style="font-size: 10px; font-family: 'DejaVu Sans', sans-serif"> </tspan>
<tspan x="25.209961" y="-0.064063" style="font-size: 10px; font-family: 'DejaVu Sans', sans-serif">=</tspan>
<tspan x="33.588867" y="-0.064063" style="font-size: 10px; font-family: 'DejaVu Sans', sans-serif"> </tspan>
<tspan x="36.767578" y="-0.064063" style="font-size: 10px; font-family: 'DejaVu Sans', sans-serif">−</tspan>
<tspan x="45.146484" y="-0.064063" style="font-size: 10px; font-family: 'DejaVu Sans', sans-serif">1</tspan>
<tspan x="51.508789" y="-0.064063" style="font-size: 10px; font-family: 'DejaVu Sans', sans-serif">.</tspan>
<tspan x="54.6875" y="-0.064063" style="font-size: 10px; font-family: 'DejaVu Sans', sans-serif">1</tspan>
<tspan x="61.049805" y="-0.064063" style="font-size: 10px; font-family: 'DejaVu Sans', sans-serif">1</tspan>
<tspan x="69.360352" y="-0.064063" style="font-size: 10px; font-family: 'DejaVu Sans', sans-serif">±</tspan>
<tspan x="79.6875" y="-0.064063" style="font-size: 10px; font-family: 'DejaVu Sans', sans-serif">0</tspan>
<tspan x="86.049805" y="-0.064063" style="font-size: 10px; font-family: 'DejaVu Sans', sans-serif">.</tspan>
<tspan x="89.228516" y="-0.064063" style="font-size: 10px; font-family: 'DejaVu Sans', sans-serif">0</tspan>
<tspan x="95.59082" y="-0.064063" style="font-size: 10px; font-family: 'DejaVu Sans', sans-serif">5</tspan>
<tspan x="103.901367" y="-0.064063" style="font-size: 10px; font-family: 'DejaVu Sans', sans-serif">×</tspan>
<tspan x="114.228516" y="-0.064063" style="font-size: 10px; font-family: 'DejaVu Sans', sans-serif">1</tspan>
<tspan x="120.59082" y="-0.064063" style="font-size: 10px; font-family: 'DejaVu Sans', sans-serif">0</tspan>
<tspan x="142.094727" y="-0.064063" style="font-size: 10px; font-family: 'DejaVu Sans', sans-serif"> </tspan>
<tspan x="145.273438" y="-0.064063" style="font-size: 10px; font-family: 'DejaVu Sans', sans-serif">/</tspan>
<tspan x="148.642578" y="-0.064063" style="font-size: 10px; font-family: 'DejaVu Sans', sans-serif"> </tspan>
<tspan x="151.821289" y="-0.064063" style="font-size: 10px; font-family: 'DejaVu Sans', sans-serif">d</tspan>
<tspan x="158.168945" y="-0.064063" style="font-size: 10px; font-family: 'DejaVu Sans', sans-serif">a</tspan>
<tspan x="164.296875" y="-0.064063" style="font-size: 10px; font-family: 'DejaVu Sans', sans-serif">y</tspan>
<tspan x="127.048828" y="-3.892188" style="font-size: 7px; font-family: 'DejaVu Sans', sans-serif">−</tspan>
<tspan x="132.914062" y="-3.892188" style="font-size: 7px; font-family: 'DejaVu Sans', sans-serif">1</tspan>
<tspan x="137.367676" y="-3.892188" style="font-size: 7px; font-family: 'DejaVu Sans', sans-serif">5</tspan>
</text>
</g>
</g>
<g id="line2d_22" transform="translate(0.4211 0.3368)">
<path d="M 214.763158 44.71528
L 224.763158 44.71528
L 234.763158 44.71528
" style="fill: none; stroke: #2ca02c; stroke-width: 1.5; stroke-linecap: square"/>
</g>
<g id="text_21">
<text style="font-size: 10px; font-family: 'DejaVu Sans', sans-serif; text-anchor: start" x="242.763158" y="48.21528" transform="rotate(-0 242.763158 48.21528)">Drift (uptime)</text>
</g>
<g id="LineCollection_2" transform="translate(0.4211 0.1263)">
<path d="M 224.763158 64.773405
L 224.763158 54.773405
" style="fill: none; stroke: #1f77b4; stroke-width: 1.5"/>
</g>
<g id="line2d_23" transform="translate(0.4211 0.1263)">
<g>
<use href="#mc7c5441340" x="224.763158" y="64.773405" style="fill: #1f77b4; stroke: #1f77b4"/>
</g>
</g>
<g id="line2d_24" transform="translate(0.4211 0.1263)">
<g>
<use href="#mc7c5441340" x="224.763158" y="54.773405" style="fill: #1f77b4; stroke: #1f77b4"/>
</g>
</g>
<g id="line2d_25"/>
<g id="line2d_26" transform="translate(0.4211 0.1263)">
<g>
<use href="#mf14c53ed57" x="224.763158" y="59.773405" style="fill: #1f77b4; stroke: #1f77b4"/>
</g>
</g>
<g id="text_22">
<text style="font-size: 10px; font-family: 'DejaVu Sans', sans-serif; text-anchor: start" x="242.763158" y="63.273405" transform="rotate(-0 242.763158 63.273405)">Daily average frequency</text>
</g>
</g>
</g>
</g>
<defs>
<clipPath id="pc058e3811c">
<rect x="61.557895" y="15.136842" width="360.505263" height="271.578947"/>
</clipPath>
</defs>
</svg>

</body></html>
